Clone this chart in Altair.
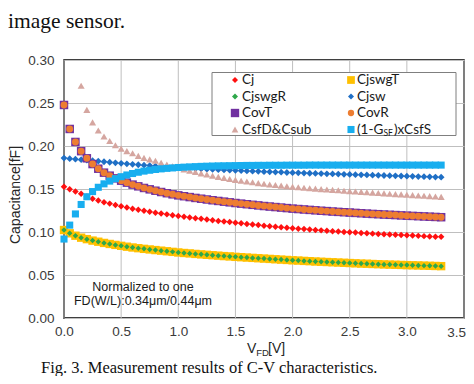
import altair as alt
import pandas as pd

# ---------------- data ----------------
V = [0.00, 0.05, 0.10, 0.15, 0.20, 0.25, 0.30, 0.35, 0.40, 0.45,
     0.50, 0.55, 0.60, 0.65, 0.70, 0.75, 0.80, 0.85, 0.90, 0.95,
     1.00, 1.05, 1.10, 1.15, 1.20, 1.25, 1.30, 1.35, 1.40, 1.45,
     1.50, 1.55, 1.60, 1.65, 1.70, 1.75, 1.80, 1.85, 1.90, 1.95,
     2.00, 2.05, 2.10, 2.15, 2.20, 2.25, 2.30, 2.35, 2.40, 2.45,
     2.50, 2.55, 2.60, 2.65, 2.70, 2.75, 2.80, 2.85, 2.90, 2.95,
     3.00, 3.05, 3.10, 3.15, 3.20, 3.25, 3.30]

CJ = [.1527, .1496, .1470, .1444, .1412, .1386, .1365, .1346, .1330, .1315,
      .1300, .1285, .1271, .1258, .1246, .1235, .1225, .1215, .1205, .1196,
      .1187, .1178, .1169, .1161, .1153, .1145, .1137, .1129, .1122, .1115,
      .1108, .1101, .1094, .1087, .1081, .1074, .1068, .1062, .1056, .1050,
      .1044, .1039, .1034, .1029, .1024, .1019, .1014, .1010, .1005, .1001,
      .0997, .0993, .0989, .0985, .0981, .0978, .0974, .0971, .0967, .0964,
      .0961, .0958, .0955, .0952, .0949, .0946, .0944]

CJSWGT = [.1023, .0985, .0957, .0934, .0917, .0900, .0887, .0873, .0861, .0850,
          .0839, .0829, .0820, .0812, .0804, .0797, .0790, .0783, .0776, .0769,
          .0762, .0756, .0751, .0745, .0740, .0735, .0730, .0725, .0720, .0716,
          .0711, .0707, .0703, .0699, .0695, .0691, .0687, .0683, .0679, .0675,
          .0671, .0668, .0664, .0661, .0657, .0654, .0651, .0648, .0645, .0642,
          .0639, .0636, .0633, .0631, .0628, .0626, .0623, .0621, .0619, .0617,
          .0615, .0613, .0611, .0609, .0607, .0605, .0603]

CJSWGR = [.1023, .0985, .0957, .0934, .0917, .0900, .0887, .0873, .0861, .0850,
          .0839, .0829, .0820, .0812, .0804, .0797, .0790, .0783, .0776, .0769,
          .0762, .0756, .0751, .0745, .0740, .0735, .0730, .0725, .0720, .0716,
          .0711, .0707, .0703, .0699, .0695, .0691, .0687, .0683, .0679, .0675,
          .0671, .0668, .0664, .0661, .0657, .0654, .0651, .0648, .0645, .0642,
          .0639, .0636, .0633, .0631, .0628, .0626, .0623, .0621, .0619, .0617,
          .0615, .0613, .0611, .0609, .0607, .0605, .0603]

CJSW = [.1860, .1853, .1847, .1841, .1835, .1829, .1823, .1817, .1811, .1805,
        .1799, .1793, .1787, .1782, .1777, .1772, .1767, .1762, .1758, .1754,
        .1750, .1746, .1742, .1738, .1735, .1731, .1728, .1725, .1722, .1719,
        .1716, .1713, .1710, .1707, .1705, .1702, .1700, .1697, .1695, .1692,
        .1690, .1688, .1685, .1683, .1681, .1679, .1677, .1675, .1673, .1671,
        .1669, .1667, .1665, .1663, .1661, .1659, .1657, .1655, .1653, .1651,
        .1649, .1647, .1645, .1643, .1641, .1639, .1637]

COVT = [.2477, .2198, .2047, .1940, .1857, .1790, .1736, .1690, .1655, .1624,
        .1597, .1574, .1551, .1531, .1512, .1496, .1480, .1465, .1451, .1438,
        .1426, .1416, .1406, .1396, .1387, .1378, .1369, .1361, .1353, .1345,
        .1337, .1330, .1323, .1316, .1309, .1302, .1296, .1290, .1284, .1278,
        .1272, .1267, .1262, .1257, .1252, .1247, .1243, .1238, .1234, .1230,
        .1226, .1222, .1218, .1214, .1210, .1207, .1203, .1200, .1197, .1193,
        .1190, .1187, .1184, .1181, .1178, .1175, .1172]

COVR = [.2477, .2198, .2047, .1940, .1857, .1790, .1736, .1690, .1655, .1624,
        .1597, .1574, .1551, .1531, .1512, .1496, .1480, .1465, .1451, .1438,
        .1426, .1416, .1406, .1396, .1387, .1378, .1369, .1361, .1353, .1345,
        .1337, .1330, .1323, .1316, .1309, .1302, .1296, .1290, .1284, .1278,
        .1272, .1267, .1262, .1257, .1252, .1247, .1243, .1238, .1234, .1230,
        .1226, .1222, .1218, .1214, .1210, .1207, .1203, .1200, .1197, .1193,
        .1190, .1187, .1184, .1181, .1178, .1175, .1172]

# CsfD&Csub is only visible from 0.15 V on
V_CSFD = V[3:]
CSFD = [.2700, .2420, .2275, .2180, .2110, .2058, .2008, .1970, .1940, .1915,
        .1885, .1862, .1845, .1828, .1805, .1785, .1765, .1745, .1728, .1712,
        .1697, .1682, .1668, .1654, .1641, .1629, .1617, .1606, .1596, .1587,
        .1578, .1569, .1561, .1553, .1546, .1539, .1532, .1526, .1520, .1514,
        .1509, .1504, .1499, .1494, .1490, .1485, .1480, .1476, .1471, .1467,
        .1462, .1458, .1453, .1449, .1445, .1441, .1437, .1433, .1429, .1425,
        .1421, .1417, .1413, .1409]

GCSFS = [.0918, .1080, .1210, .1320, .1410, .1470, .1520, .1560, .1592, .1620,
         .1643, .1663, .1680, .1695, .1708, .1718, .1727, .1734, .1740, .1745,
         .1750, .1754, .1757, .1760, .1763, .1765, .1767, .1769, .1770, .1771,
         .1772, .1773, .1774, .1774, .1775, .1775, .1776, .1776, .1776, .1777,
         .1777, .1777, .1777, .1778, .1778, .1778, .1778, .1778, .1778, .1778,
         .1778, .1778, .1778, .1778, .1778, .1778, .1778, .1778, .1778, .1778,
         .1778, .1778, .1778, .1778, .1778, .1778, .1778]

X_TICKS = [0.0, 0.5, 1.0, 1.5, 2.0, 2.5, 3.0, 3.5]
Y_TICKS = [0.00, 0.05, 0.10, 0.15, 0.20, 0.25, 0.30]

LEGEND_LEFT = ["Cj", "CjswgR", "CovT", "CsfD&Csub"]
LEGEND_RIGHT = ["CjswgT", "Cjsw", "CovR"]

# ---------------- styling ----------------
W, H = 400, 258
SANS = "Liberation Sans"
SERIF = "Liberation Serif"
LEG_FONT = "Lato"
TICK_COLOR = "#3a3a3a"

# the last x label (3.5) sits at the right page edge: drawn right-aligned below
x_enc = alt.X("V:Q", scale=alt.Scale(domain=[0, 3.5], nice=False, zero=False),
              axis=alt.Axis(values=X_TICKS[:-1], format=".1f", title=None,
                            labelFlush=False, grid=False))
y_enc = alt.Y("C:Q", scale=alt.Scale(domain=[0, 0.30], nice=False),
              axis=alt.Axis(values=Y_TICKS, format=".2f", title=None))


def series(xs, ys, shape, size, color):
    df = pd.DataFrame({"V": xs, "C": ys})
    return alt.Chart(df).mark_point(shape=shape, size=size, filled=True,
                                    color=color, opacity=1).encode(x=x_enc, y=y_enc)


dummy = pd.DataFrame({"a": [0]})


def text(t, x, y, size, font=SANS, color="#1a1a1a", align="left",
         baseline="middle", angle=0):
    kw = dict(text=t, font=font, fontSize=size, color=color, align=align,
              baseline=baseline)
    if angle:
        kw["angle"] = angle
    return alt.Chart(dummy).mark_text(**kw).encode(x=alt.value(x), y=alt.value(y))


def marker(x, y, shape, size, color):
    return alt.Chart(dummy).mark_point(shape=shape, size=size, filled=True,
                                       color=color, opacity=1).encode(
        x=alt.value(x), y=alt.value(y))


C_CJ = "#FF1010"
C_CJSWGT = "#FFC000"
C_CJSWGR = "#2EA84A"
C_CJSW = "#1F6FC5"
C_COVT = "#7030A0"
C_COVR = "#ED7D31"
C_CSFD = "#D5A6A0"
C_GCSFS = "#18AEEF"

# vertical grid lines at every x tick
grid_df = pd.DataFrame({"V": X_TICKS})
vgrid = alt.Chart(grid_df).mark_rule(color="#BFBFBF", strokeWidth=1).encode(x=x_enc)

layers = [
    vgrid,
    series(V, CJ, "diamond", 42, C_CJ),
    series(V, CJSWGT, "square", 70, C_CJSWGT),
    series(V, CJSWGR, "diamond", 30, C_CJSWGR),
    series(V, CJSW, "diamond", 46, C_CJSW),
    series(V, COVT, "square", 72, C_COVT),
    series(V, COVR, "circle", 48, C_COVR),
    series(V_CSFD, CSFD, "triangle-up", 50, C_CSFD),
    series(V, GCSFS, "square", 50, C_GCSFS),
]

# last x tick label, kept inside the page
layers.append(text("3.5", 402, 266, 13.5, color=TICK_COLOR, align="right", baseline="top"))

# legend box
legend_box = alt.Chart(dummy).mark_rect(fill="white", stroke="#7F7F7F", strokeWidth=1).encode(
    x=alt.value(148), x2=alt.value(392), y=alt.value(12.5), y2=alt.value(75.5))
layers.append(legend_box)

rows = [20, 36.5, 53, 69.5]
lx1, tx1 = 171, 178
lx2, tx2 = 287, 293
layers += [
    marker(lx1, rows[0], "diamond", 36, C_CJ),
    marker(lx1, rows[1], "diamond", 36, C_CJSWGR),
    marker(lx1, rows[2], "square", 70, C_COVT),
    marker(lx1, rows[3], "triangle-up", 45, C_CSFD),
    marker(lx2, rows[0], "square", 60, C_CJSWGT),
    marker(lx2, rows[1], "diamond", 36, C_CJSW),
    marker(lx2, rows[2], "circle", 40, C_COVR),
    marker(lx2, rows[3], "square", 50, C_GCSFS),
]
for i, t in enumerate(LEGEND_LEFT):
    layers.append(text(t, tx1, rows[i], 13.5, font=LEG_FONT))
for i, t in enumerate(LEGEND_RIGHT):
    layers.append(text(t, tx2, rows[i], 13.5, font=LEG_FONT))
# (1-G_SF)xCsfS with subscript
layers += [
    text("(1-G", tx2, rows[3], 13.5, font=LEG_FONT),
    text("SF", tx2 + 26.5, rows[3] + 3.5, 8.5, font=LEG_FONT),
    text(")xCsfS", tx2 + 37, rows[3], 13.5, font=LEG_FONT),
]

# annotation
layers += [
    text("Normalized to one", 79, 226.5, 12.5, align="center"),
    text("FD(W/L):0.34\u03bcm/0.44\u03bcm", 79, 241, 12.5, align="center"),
]

# axis titles
layers += [
    text("Capacitance[fF]", -48, 135, 14, align="center", angle=270, color="#262626"),
    text("V", 183, 293, 14, baseline="alphabetic", color="#262626"),
    text("FD", 192.3, 296, 9.5, baseline="alphabetic", color="#262626"),
    text("[V]", 204, 293, 14, baseline="alphabetic", color="#262626"),
]

# surrounding document text
layers += [
    text("image sensor.", -56, -32, 21.5, font=SERIF, baseline="alphabetic", color="#111111"),
    text("Fig. 3. Measurement results of C-V characteristics.", -23, 312.5, 16.5,
         font=SERIF, baseline="alphabetic", color="#111111"),
]

chart = alt.layer(*layers).properties(
    width=W, height=H,
    padding={"left": 56, "top": 52, "right": 2, "bottom": 58},
    autosize=alt.AutoSizeParams(type="none"),
).configure_view(
    stroke="#000000", strokeWidth=1.5
).configure_axis(
    labelFont=SANS, labelFontSize=13.5, labelColor=TICK_COLOR,
    tickSize=0, domain=False, grid=True, gridColor="#BFBFBF", gridWidth=1,
).configure_axisY(labelPadding=10).configure_axisX(labelPadding=6)

chart.save("out.html", embed_options={"renderer": "svg", "actions": False})
